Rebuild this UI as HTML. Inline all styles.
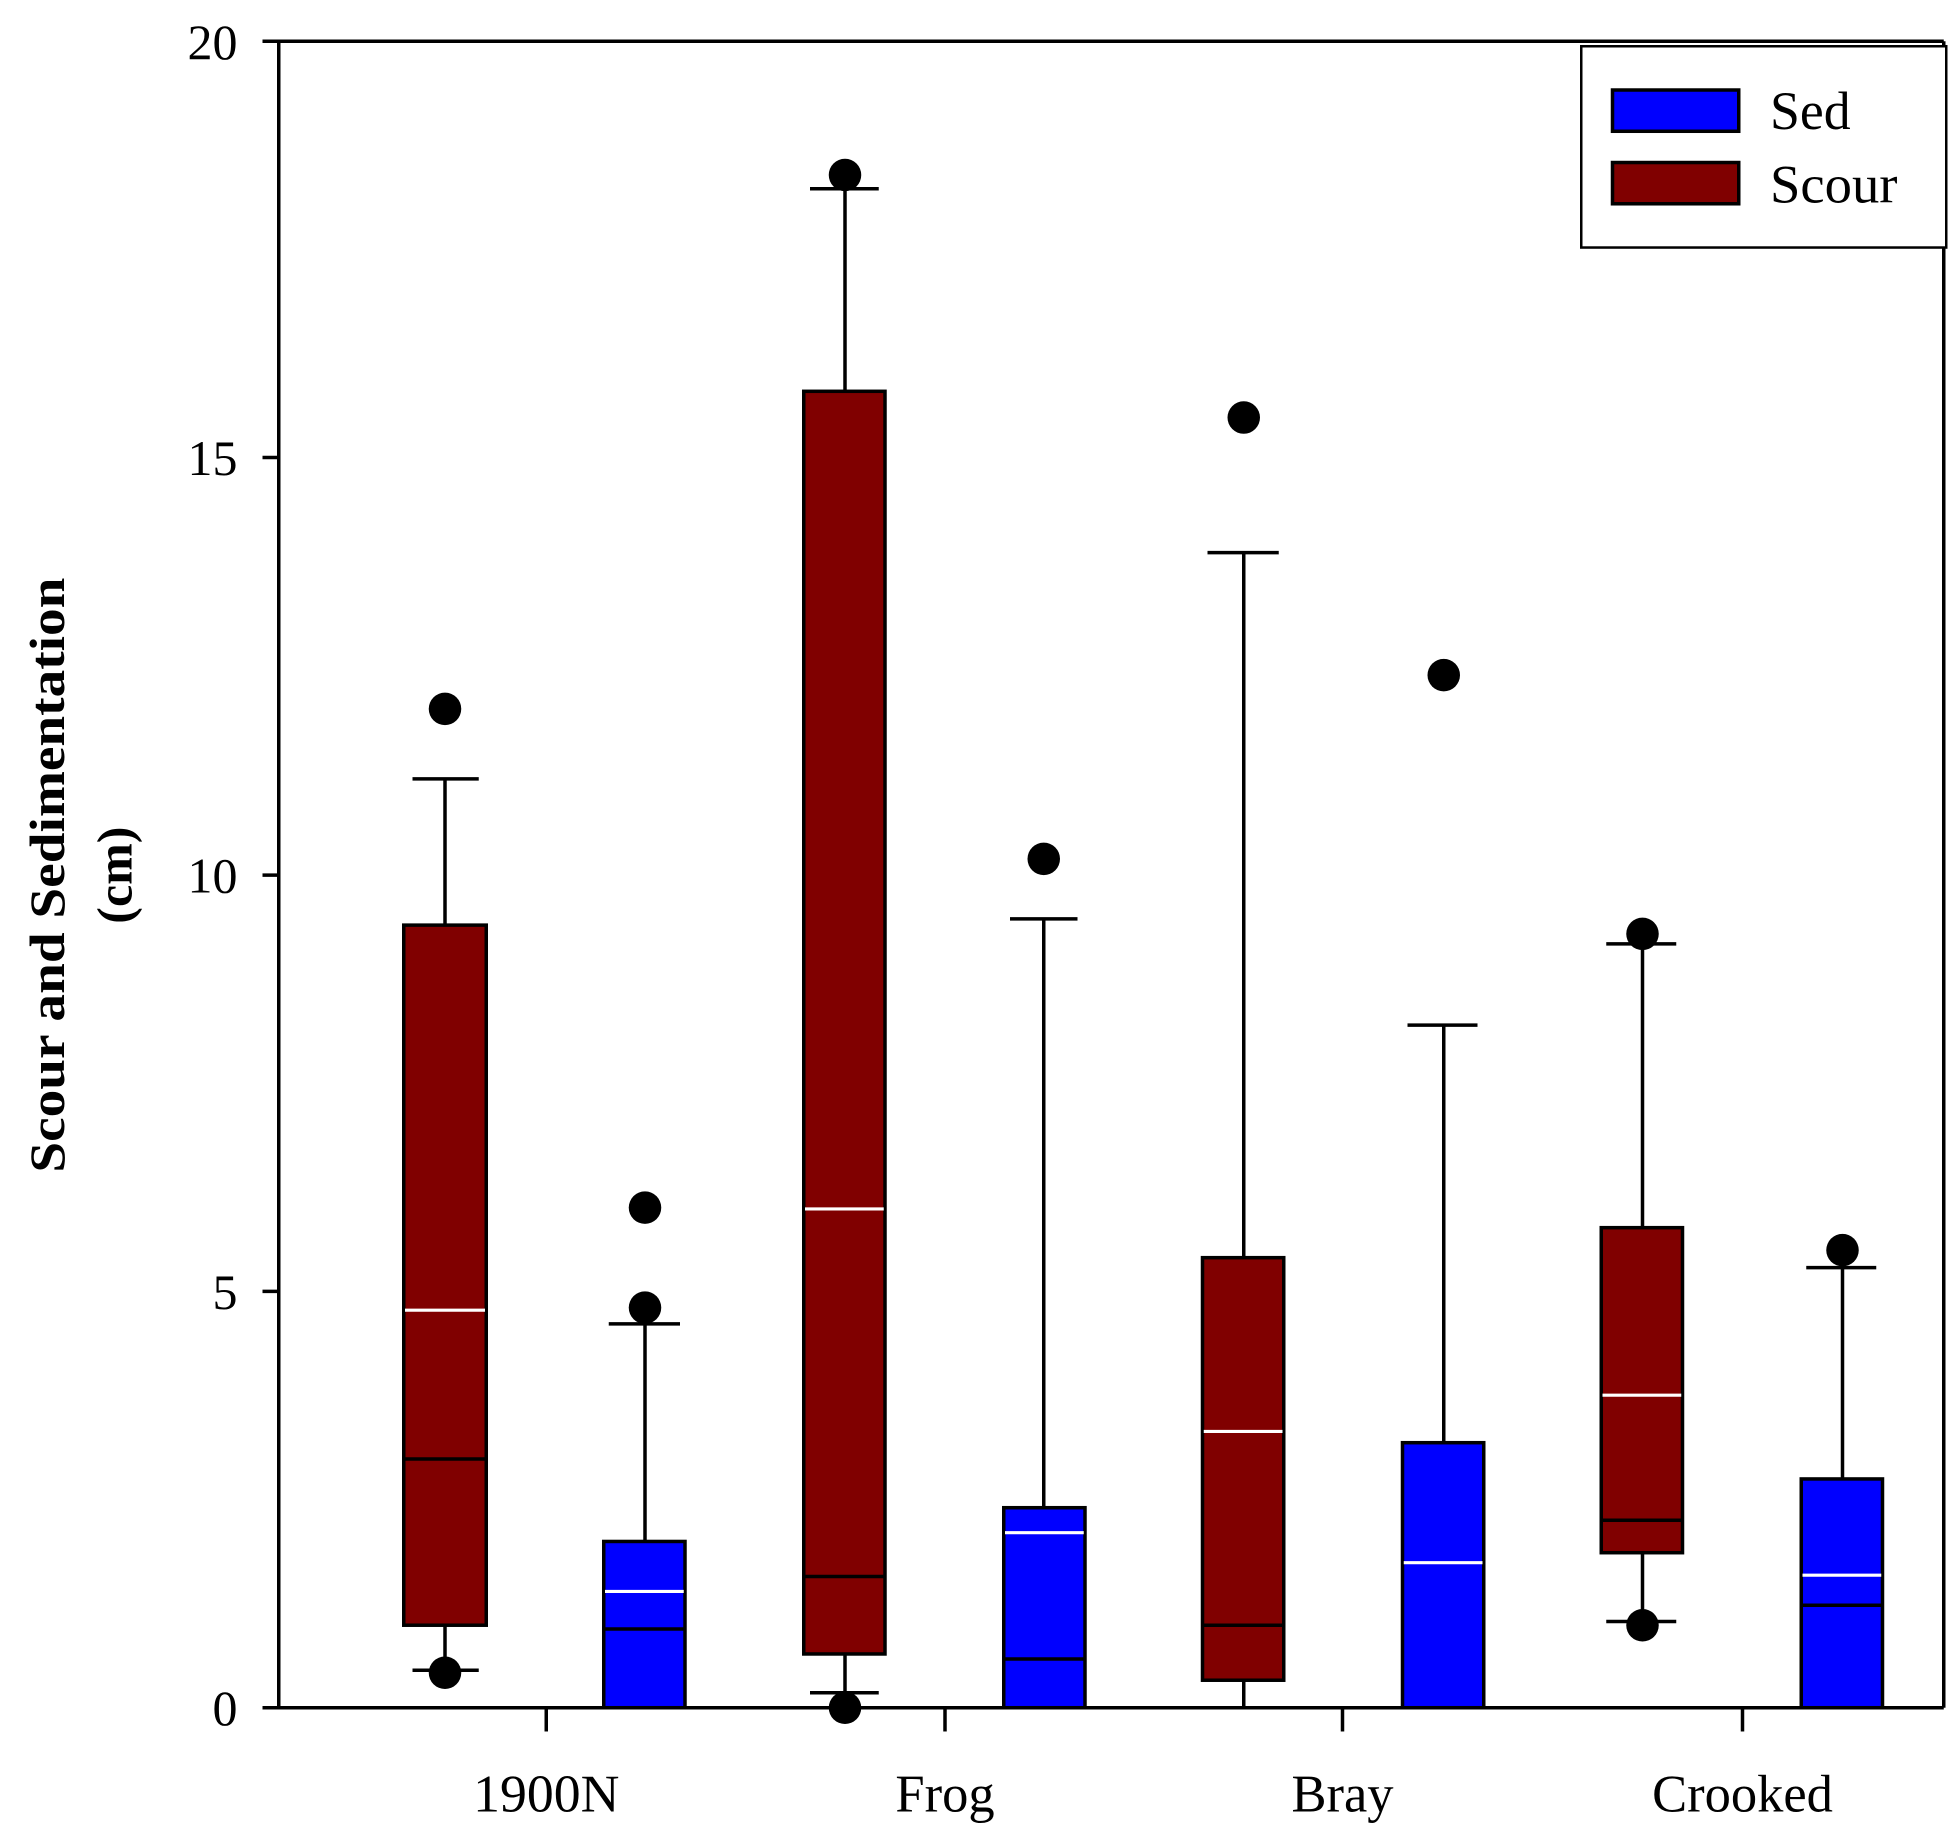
<!DOCTYPE html>
<html><head><meta charset="utf-8"><style>html,body{margin:0;padding:0;background:#fff}svg{display:block}</style></head>
<body>
<svg width="1960" height="1839" viewBox="0 0 1568 1471" preserveAspectRatio="none" xmlns="http://www.w3.org/2000/svg" font-family="Liberation Serif, serif">
<rect width="1568" height="1471" fill="#fff"/>
<g stroke="#000" stroke-width="2.8" fill="none">
<polyline points="1555,33 223,33 223,1366 1555,1366"/>
<line x1="1555" y1="33" x2="1555" y2="1366"/>
<line x1="210" y1="33" x2="223" y2="33"/><line x1="210" y1="366" x2="223" y2="366"/><line x1="210" y1="700" x2="223" y2="700"/><line x1="210" y1="1033" x2="223" y2="1033"/><line x1="210" y1="1366" x2="223" y2="1366"/>
<line x1="437" y1="1366" x2="437" y2="1385"/><line x1="756" y1="1366" x2="756" y2="1385"/><line x1="1074" y1="1366" x2="1074" y2="1385"/><line x1="1394" y1="1366" x2="1394" y2="1385"/>
</g>
<g font-size="40" text-anchor="end"><text x="190" y="47">20</text><text x="190" y="380">15</text><text x="190" y="714">10</text><text x="190" y="1047">5</text><text x="190" y="1380">0</text></g>
<g font-size="42" text-anchor="middle"><text x="437" y="1449" textLength="117" lengthAdjust="spacingAndGlyphs">1900N</text><text x="756" y="1449">Frog</text><text x="1074" y="1449">Bray</text><text x="1394" y="1449">Crooked</text></g>
<g font-size="40" font-weight="bold" text-anchor="middle"><text transform="translate(51,700) rotate(-90)" textLength="476" lengthAdjust="spacingAndGlyphs">Scour and Sedimentation</text><text transform="translate(105,700) rotate(-90)">(cm)</text></g>
<g stroke="#000" stroke-width="2.8">
<line x1="356" y1="623" x2="356" y2="740"/><line x1="330" y1="623" x2="383" y2="623"/><line x1="356" y1="1300" x2="356" y2="1336"/><line x1="330" y1="1336" x2="383" y2="1336"/>
<line x1="516" y1="1059" x2="516" y2="1233"/><line x1="487" y1="1059" x2="544" y2="1059"/>
<line x1="676" y1="151" x2="676" y2="313"/><line x1="648" y1="151" x2="703" y2="151"/><line x1="676" y1="1323" x2="676" y2="1354"/><line x1="648" y1="1354" x2="703" y2="1354"/>
<line x1="835" y1="735" x2="835" y2="1206"/><line x1="808" y1="735" x2="862" y2="735"/>
<line x1="995" y1="442" x2="995" y2="1006"/><line x1="966" y1="442" x2="1023" y2="442"/><line x1="995" y1="1344" x2="995" y2="1366"/>
<line x1="1155" y1="820" x2="1155" y2="1154"/><line x1="1126" y1="820" x2="1182" y2="820"/>
<line x1="1314" y1="755" x2="1314" y2="982"/><line x1="1285" y1="755" x2="1341" y2="755"/><line x1="1314" y1="1242" x2="1314" y2="1297"/><line x1="1285" y1="1297" x2="1341" y2="1297"/>
<line x1="1474" y1="1014" x2="1474" y2="1183"/><line x1="1445" y1="1014" x2="1501" y2="1014"/>
<rect x="323" y="740" width="66" height="560" fill="#800000"/>
<rect x="483" y="1233" width="65" height="133" fill="#0000ff"/>
<rect x="643" y="313" width="65" height="1010" fill="#800000"/>
<rect x="803" y="1206" width="65" height="160" fill="#0000ff"/>
<rect x="962" y="1006" width="65" height="338" fill="#800000"/>
<rect x="1122" y="1154" width="65" height="212" fill="#0000ff"/>
<rect x="1281" y="982" width="65" height="260" fill="#800000"/>
<rect x="1441" y="1183" width="65" height="183" fill="#0000ff"/>
<line x1="323" y1="1167" x2="389" y2="1167"/><line x1="483" y1="1303" x2="548" y2="1303"/><line x1="643" y1="1261" x2="708" y2="1261"/><line x1="803" y1="1327" x2="868" y2="1327"/><line x1="962" y1="1300" x2="1027" y2="1300"/><line x1="1281" y1="1216" x2="1346" y2="1216"/><line x1="1441" y1="1284" x2="1506" y2="1284"/>
</g>
<g stroke="#fff" stroke-width="2.5">
<line x1="324" y1="1048" x2="388" y2="1048"/><line x1="484" y1="1273" x2="547" y2="1273"/><line x1="644" y1="967" x2="707" y2="967"/><line x1="804" y1="1226" x2="867" y2="1226"/><line x1="963" y1="1145" x2="1026" y2="1145"/><line x1="1123" y1="1250" x2="1186" y2="1250"/><line x1="1282" y1="1116" x2="1345" y2="1116"/><line x1="1442" y1="1260" x2="1505" y2="1260"/>
</g>
<g fill="#000">
<circle cx="356" cy="567" r="13"/><circle cx="356" cy="1338" r="13"/>
<circle cx="516" cy="966" r="13"/><circle cx="516" cy="1046" r="13"/>
<circle cx="676" cy="140" r="13"/><circle cx="676" cy="1366" r="13"/>
<circle cx="835" cy="687" r="13"/>
<circle cx="995" cy="334" r="13"/>
<circle cx="1155" cy="540" r="13"/>
<circle cx="1314" cy="747" r="13"/><circle cx="1314" cy="1300" r="13"/>
<circle cx="1474" cy="1000" r="13"/>
</g>
<rect x="1265" y="37" width="292" height="161" fill="#fff" stroke="#000" stroke-width="2"/>
<rect x="1290" y="72" width="101" height="33" fill="#0000ff" stroke="#000" stroke-width="2.8"/>
<rect x="1290" y="130" width="101" height="33" fill="#800000" stroke="#000" stroke-width="2.8"/>
<g font-size="43"><text x="1416" y="103">Sed</text><text x="1416" y="162" textLength="102" lengthAdjust="spacingAndGlyphs">Scour</text></g>
</svg>
</body></html>
